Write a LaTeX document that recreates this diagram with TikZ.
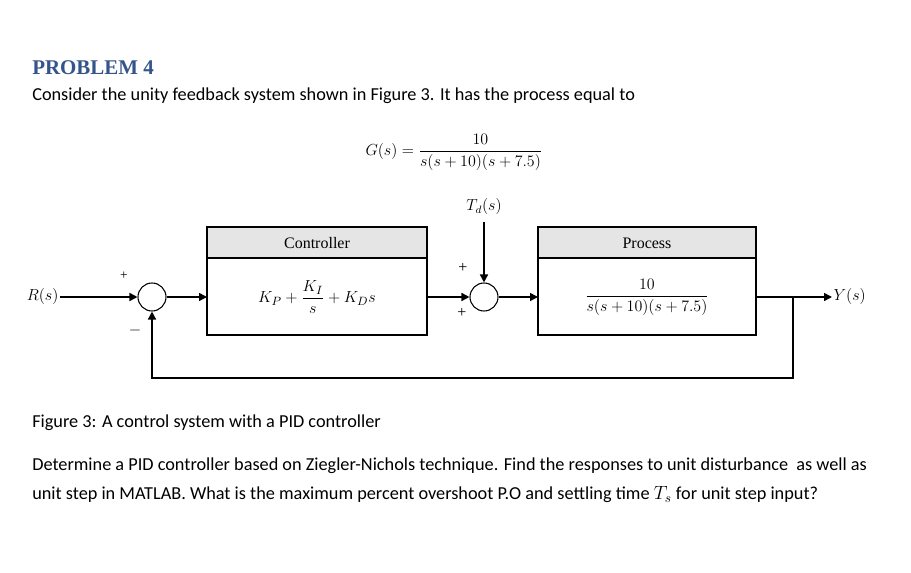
\documentclass[tikz,border=0pt]{standalone}
\usepackage{amsmath}
\usepackage{fontspec}
\setmainfont{Carlito}
\newfontfamily\tms{Liberation Serif}
\usetikzlibrary{arrows.meta}
\definecolor{headblue}{HTML}{34558A}
\begin{document}
\begin{tikzpicture}[x=0.75pt,y=-0.75pt,
  blk/.style={draw,line width=0.9pt},
  hdr/.style={draw,line width=0.9pt,fill=gray!20},
  sum/.style={draw,circle,minimum size=21pt,inner sep=0pt,line width=0.8pt},
  sig/.style={line width=1.1pt,-{Triangle[length=6pt,width=6pt]}},
  lbl/.style={font=\tms\fontsize{12}{14}\selectfont,inner sep=1pt},
  txt/.style={anchor=west,inner sep=0pt,font=\fontsize{13.7}{16}\selectfont}]
\useasboundingbox (0,0) rectangle (911,573);
\node[anchor=west,inner sep=0pt,text=headblue,font=\tms\bfseries\fontsize{15.7}{18}\selectfont] (title) at (32,68) {PROBLEM 4};
\node[txt] (l1) at (32,96) {Consider the unity feedback system shown in Figure 3. It has the process equal to};
\node[lbl,font=\tms\fontsize{13}{15}\selectfont] (gs) at (454,152) {$G(s)=\dfrac{10}{s(s+10)(s+7.5)}$};
% blocks
\draw[blk] (207,227) rectangle (427,335);
\path[hdr] (207,227) rectangle (427,258);
\node[lbl] (ctl) at (317,243) {Controller};
\draw[blk] (538,227) rectangle (756,335);
\path[hdr] (538,227) rectangle (756,258);
\node[lbl] (prc) at (647,243) {Process};
\coordinate (cin) at (207,297); \coordinate (cout) at (427,297);
\coordinate (pin) at (538,297); \coordinate (pout) at (756,297);
\node[lbl,font=\tms\fontsize{13}{15}\selectfont] (pid) at (317,297) {$K_P+\dfrac{K_I}{s}+K_D s$};
\node[lbl] (pf) at (647,297) {$\dfrac{10}{s(s+10)(s+7.5)}$};
\node[sum] (s1) at (152,297) {};
\node[sum] (s2) at (484,297) {};
\node[lbl,anchor=east] (r) at (60,297) {$R(s)$};
\node[lbl,anchor=west] (y) at (832,297) {$Y(s)$};
\node[lbl] (td) at (484,207) {$T_d(s)$};
\coordinate (tdtop) at (484,222);
\coordinate (br) at (793,297);
\coordinate (fb1) at (793,378);
\coordinate (fb2) at (152,378);
\draw[sig] (r) -- (s1);
\draw[sig] (s1) -- (cin);
\draw[sig] (cout) -- (s2);
\draw[sig] (s2) -- (pin);
\draw[sig] (pout) -- (y);
\draw[sig] (tdtop) -- (s2);
\draw[sig] (br) -- (fb1) -- (fb2) -- (s1);
\node[lbl,font=\tms\fontsize{10}{11}\selectfont] (p1) at (124,276) {+};
\node[lbl,font=\tms\fontsize{12}{12}\selectfont] (m1) at (135,331) {$-$};
\node[lbl,font=\tms\fontsize{12}{12}\selectfont] (p2) at (463,268) {+};
\node[lbl,font=\tms\fontsize{12}{12}\selectfont] (p3) at (462,313) {+};
\node[txt] (cap) at (32,423) {Figure 3: A control system with a PID controller};
\node[txt] (q1) at (32,466) {Determine a PID controller based on Ziegler-Nichols technique. Find the responses to unit disturbance\ \ as well as};
\node[txt] (q2) at (32,495) {unit step in MATLAB. What is the maximum percent overshoot P.O and settling time {\tms$T_s$} for unit step input?};
\end{tikzpicture}
\end{document}
